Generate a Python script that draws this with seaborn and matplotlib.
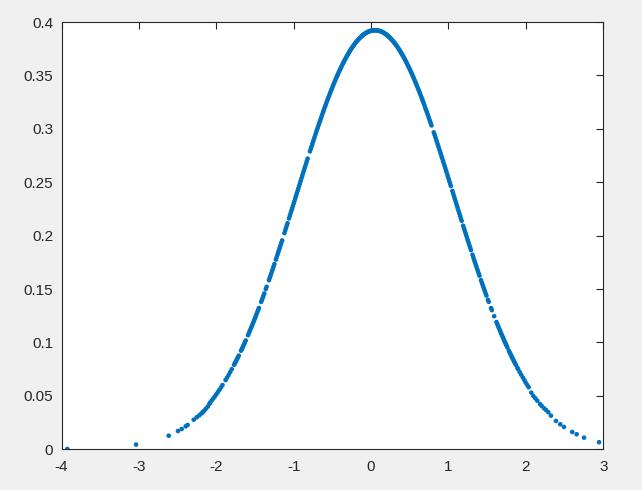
import matplotlib
matplotlib.use("Agg")
import matplotlib.pyplot as plt
import seaborn as sns
import pandas as pd

x_vals = [
    -3.925, -3.037, -2.615, -2.495, -2.447, -2.395, -2.370, -2.292, -2.253, -2.220,
    -2.194, -2.176, -2.159, -2.137, -2.111, -2.090,
    -2.08, -2.06, -2.04, -2.02, -2.00, -1.98, -1.96, -1.94, -1.92, -1.88,
    -1.86, -1.84, -1.82, -1.80, -1.77, -1.76, -1.75, -1.74, -1.73, -1.72,
    -1.71, -1.68, -1.67, -1.66, -1.65, -1.64, -1.63, -1.62, -1.59, -1.58,
    -1.57, -1.56, -1.55, -1.54, -1.53, -1.52, -1.51, -1.50, -1.49, -1.48,
    -1.47, -1.46, -1.45, -1.42, -1.41, -1.40, -1.39, -1.38, -1.36, -1.35,
    -1.32, -1.31, -1.30, -1.29, -1.28, -1.27, -1.26, -1.25, -1.23, -1.22,
    -1.21, -1.20, -1.19, -1.18, -1.17, -1.16, -1.15, -1.12, -1.11, -1.10,
    -1.09, -1.08, -1.06, -1.05, -1.04, -1.03, -1.02, -1.01, -1.00, -0.99,
    -0.98, -0.97, -0.96, -0.95, -0.94, -0.93, -0.92, -0.91, -0.90, -0.89,
    -0.88, -0.87, -0.86, -0.85, -0.84, -0.83, -0.82, -0.79, -0.78, -0.77,
    -0.76, -0.75, -0.74, -0.73, -0.72, -0.71, -0.70, -0.69, -0.68, -0.67,
    -0.66, -0.65, -0.64, -0.63, -0.62, -0.61, -0.60, -0.59, -0.58, -0.57,
    -0.56, -0.55, -0.54, -0.53, -0.52, -0.51, -0.50, -0.49, -0.48, -0.47,
    -0.46, -0.45, -0.44, -0.43, -0.42, -0.41, -0.40, -0.39, -0.38, -0.37,
    -0.36, -0.35, -0.34, -0.33, -0.32, -0.31, -0.30, -0.29, -0.28, -0.27,
    -0.26, -0.25, -0.24, -0.23, -0.22, -0.21, -0.20, -0.19, -0.18, -0.17,
    -0.16, -0.15, -0.14, -0.13, -0.12, -0.11, -0.10, -0.09, -0.08, -0.07,
    -0.06, -0.05, -0.04, -0.03, -0.02, -0.01, 0.00, 0.01, 0.02, 0.03,
    0.04, 0.05, 0.06, 0.07, 0.08, 0.09, 0.10, 0.11, 0.12, 0.13,
    0.14, 0.15, 0.16, 0.17, 0.18, 0.19, 0.20, 0.21, 0.22, 0.23,
    0.24, 0.25, 0.26, 0.27, 0.28, 0.29, 0.30, 0.31, 0.32, 0.33,
    0.34, 0.35, 0.36, 0.37, 0.38, 0.39, 0.40, 0.41, 0.42, 0.43,
    0.44, 0.45, 0.46, 0.47, 0.48, 0.49, 0.50, 0.51, 0.52, 0.53,
    0.54, 0.55, 0.56, 0.57, 0.58, 0.59, 0.60, 0.61, 0.62, 0.63,
    0.64, 0.65, 0.66, 0.67, 0.68, 0.69, 0.70, 0.71, 0.72, 0.73,
    0.74, 0.75, 0.76, 0.77, 0.78, 0.81, 0.82, 0.83, 0.84, 0.85,
    0.86, 0.87, 0.88, 0.89, 0.90, 0.91, 0.92, 0.93, 0.94, 0.95,
    0.96, 0.97, 0.98, 0.99, 1.00, 1.01, 1.02, 1.03, 1.05, 1.06,
    1.07, 1.08, 1.09, 1.10, 1.11, 1.12, 1.13, 1.14, 1.15, 1.16,
    1.17, 1.19, 1.20, 1.21, 1.22, 1.23, 1.24, 1.25, 1.26, 1.27,
    1.28, 1.29, 1.31, 1.32, 1.33, 1.34, 1.35, 1.36, 1.37, 1.38,
    1.39, 1.40, 1.42, 1.43, 1.44, 1.45, 1.46, 1.47, 1.48, 1.49,
    1.51, 1.52, 1.55, 1.56, 1.59, 1.62, 1.63, 1.64, 1.65, 1.66,
    1.67, 1.68, 1.69, 1.70, 1.71, 1.72, 1.73, 1.74, 1.75, 1.76,
    1.78, 1.79, 1.80, 1.81, 1.82, 1.83, 1.84, 1.85, 1.86, 1.87,
    1.89, 1.90, 1.92, 1.94, 1.96, 1.98,
    1.997, 2.018, 2.036, 2.070, 2.096, 2.121, 2.147, 2.182, 2.204, 2.234,
    2.260, 2.289, 2.324, 2.389, 2.444, 2.492, 2.599, 2.656, 2.751, 2.945,
]

y_vals = [
    0.0003, 0.0044, 0.0127, 0.0171, 0.0190, 0.0215, 0.0228, 0.0277, 0.0300, 0.0318,
    0.0334, 0.0347, 0.0359, 0.0378, 0.0399, 0.0424,
    0.0437, 0.0456, 0.0475, 0.0494, 0.0514, 0.0535, 0.0556, 0.0578, 0.0601, 0.0648,
    0.0672, 0.0697, 0.0723, 0.0750, 0.0791, 0.0805, 0.0819, 0.0833, 0.0848, 0.0862,
    0.0877, 0.0923, 0.0938, 0.0954, 0.0970, 0.0986, 0.1002, 0.1018, 0.1068, 0.1085,
    0.1103, 0.1120, 0.1138, 0.1155, 0.1173, 0.1191, 0.1209, 0.1228, 0.1246, 0.1265,
    0.1284, 0.1303, 0.1322, 0.1380, 0.1399, 0.1419, 0.1439, 0.1459, 0.1500, 0.1521,
    0.1583, 0.1604, 0.1625, 0.1646, 0.1668, 0.1689, 0.1711, 0.1733, 0.1776, 0.1798,
    0.1821, 0.1843, 0.1865, 0.1888, 0.1910, 0.1933, 0.1955, 0.2024, 0.2047, 0.2070,
    0.2093, 0.2116, 0.2162, 0.2185, 0.2209, 0.2232, 0.2255, 0.2278, 0.2302, 0.2325,
    0.2349, 0.2372, 0.2395, 0.2419, 0.2442, 0.2466, 0.2489, 0.2512, 0.2536, 0.2559,
    0.2582, 0.2605, 0.2629, 0.2652, 0.2675, 0.2698, 0.2721, 0.2789, 0.2811, 0.2834,
    0.2856, 0.2879, 0.2901, 0.2923, 0.2945, 0.2967, 0.2989, 0.3010, 0.3032, 0.3053,
    0.3074, 0.3095, 0.3116, 0.3137, 0.3158, 0.3178, 0.3198, 0.3218, 0.3238, 0.3258,
    0.3277, 0.3296, 0.3315, 0.3334, 0.3353, 0.3371, 0.3389, 0.3407, 0.3425, 0.3442,
    0.3459, 0.3476, 0.3493, 0.3509, 0.3526, 0.3541, 0.3557, 0.3572, 0.3587, 0.3602,
    0.3617, 0.3631, 0.3645, 0.3658, 0.3672, 0.3685, 0.3697, 0.3710, 0.3722, 0.3734,
    0.3745, 0.3756, 0.3767, 0.3777, 0.3787, 0.3797, 0.3806, 0.3815, 0.3824, 0.3832,
    0.3840, 0.3848, 0.3855, 0.3862, 0.3869, 0.3875, 0.3881, 0.3886, 0.3891, 0.3896,
    0.3900, 0.3904, 0.3908, 0.3911, 0.3914, 0.3916, 0.3918, 0.3920, 0.3921, 0.3922,
    0.3923, 0.3923, 0.3923, 0.3922, 0.3921, 0.3920, 0.3918, 0.3916, 0.3914, 0.3911,
    0.3908, 0.3904, 0.3900, 0.3896, 0.3891, 0.3886, 0.3881, 0.3875, 0.3869, 0.3862,
    0.3855, 0.3848, 0.3840, 0.3832, 0.3824, 0.3815, 0.3806, 0.3797, 0.3787, 0.3777,
    0.3767, 0.3756, 0.3745, 0.3734, 0.3722, 0.3710, 0.3697, 0.3685, 0.3672, 0.3658,
    0.3645, 0.3631, 0.3617, 0.3602, 0.3587, 0.3572, 0.3557, 0.3541, 0.3526, 0.3509,
    0.3493, 0.3476, 0.3459, 0.3442, 0.3425, 0.3407, 0.3389, 0.3371, 0.3353, 0.3334,
    0.3315, 0.3296, 0.3277, 0.3258, 0.3238, 0.3218, 0.3198, 0.3178, 0.3158, 0.3137,
    0.3116, 0.3095, 0.3074, 0.3053, 0.3032, 0.2967, 0.2945, 0.2923, 0.2901, 0.2879,
    0.2856, 0.2834, 0.2811, 0.2789, 0.2766, 0.2743, 0.2721, 0.2698, 0.2675, 0.2652,
    0.2629, 0.2605, 0.2582, 0.2559, 0.2536, 0.2512, 0.2489, 0.2466, 0.2419, 0.2395,
    0.2372, 0.2349, 0.2325, 0.2302, 0.2278, 0.2255, 0.2232, 0.2209, 0.2185, 0.2162,
    0.2139, 0.2093, 0.2070, 0.2047, 0.2024, 0.2001, 0.1978, 0.1955, 0.1933, 0.1910,
    0.1888, 0.1865, 0.1821, 0.1798, 0.1776, 0.1754, 0.1733, 0.1711, 0.1689, 0.1668,
    0.1646, 0.1625, 0.1583, 0.1562, 0.1541, 0.1521, 0.1500, 0.1480, 0.1459, 0.1439,
    0.1399, 0.1380, 0.1322, 0.1303, 0.1246, 0.1191, 0.1173, 0.1155, 0.1138, 0.1120,
    0.1103, 0.1085, 0.1068, 0.1052, 0.1035, 0.1018, 0.1002, 0.0986, 0.0970, 0.0954,
    0.0923, 0.0907, 0.0892, 0.0877, 0.0862, 0.0848, 0.0833, 0.0819, 0.0805, 0.0791,
    0.0763, 0.0750, 0.0723, 0.0697, 0.0672, 0.0648,
    0.0624, 0.0602, 0.0581, 0.0530, 0.0499, 0.0478, 0.0455, 0.0424, 0.0406, 0.0384,
    0.0368, 0.0347, 0.0315, 0.0265, 0.0234, 0.0209, 0.0162, 0.0141, 0.0109, 0.0066,
]

x_ticks = [-4, -3, -2, -1, 0, 1, 2, 3]
y_ticks = [0, 0.05, 0.1, 0.15, 0.2, 0.25, 0.3, 0.35, 0.4]
y_tick_labels = ["0", "0.05", "0.1", "0.15", "0.2", "0.25", "0.3", "0.35", "0.4"]

df = pd.DataFrame({"x": x_vals, "y": y_vals})

sns.set_theme(style="white")
plt.rcParams['font.family'] = ['Liberation Sans', 'DejaVu Sans']
plt.rcParams['axes.unicode_minus'] = False

axis_col = "#262626"
fig = plt.figure(figsize=(6.42, 4.90), dpi=100, facecolor="#f0f0f0")
ax = fig.add_axes([0.0958, 0.0831, 0.8439, 0.872])
ax.set_facecolor("white")

sns.scatterplot(data=df, x="x", y="y", s=11, color="#0072bd", linewidth=0,
                edgecolor="none", legend=False, ax=ax)

ax.set_xlim(-4, 3)
ax.set_ylim(0, 0.4)
ax.set_xticks(x_ticks)
ax.set_xticklabels([str(t) for t in x_ticks])
ax.set_yticks(y_ticks)
ax.set_yticklabels(y_tick_labels)
ax.set_xlabel("")
ax.set_ylabel("")

ax.tick_params(axis="both", direction="in", length=5, width=0.8, color=axis_col,
               labelcolor=axis_col, labelsize=11, top=True, right=True)
ax.tick_params(axis="x", pad=8)
ax.tick_params(axis="y", pad=6)
for sp in ax.spines.values():
    sp.set_color(axis_col)
    sp.set_linewidth(0.8)

fig.savefig("out.png", dpi=100, facecolor=fig.get_facecolor())
